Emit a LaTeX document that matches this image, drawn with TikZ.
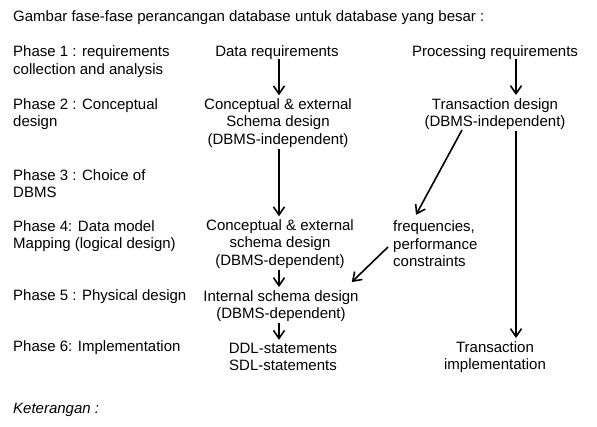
\documentclass[tikz,border=0pt]{standalone}
\usepackage{fontspec}
\setmainfont{Liberation Sans}
\usetikzlibrary{arrows.meta}
\begin{document}
\begin{tikzpicture}[x=1pt,y=-1pt,
		phase/.style={anchor=west, align=left, inner sep=0pt, font=\fontsize{15}{17.5}\selectfont},
		stagebox/.style={align=center, inner sep=0pt, font=\fontsize{15}{17.5}\selectfont},
		flow/.style={line width=1.6pt, -{Straight Barb[length=8pt,width=11pt]}}]
		\useasboundingbox (0,0) rectangle (597,426);
		\node[phase] (judul) at (13,18) {Gambar fase-fase perancangan database untuk database yang besar :};
		\node[phase] (phase1) at (13,61.5) {Phase 1 : requirements\\collection and analysis};
		\node[phase] (phase2) at (13,114) {Phase 2 : Conceptual\\design};
		\node[phase] (phase3) at (13,183.5) {Phase 3 : Choice of\\DBMS};
		\node[phase] (phase4) at (13,236) {Phase 4: Data model\\Mapping (logical design)};
		\node[phase] (phase5) at (13,297) {Phase 5 : Physical design};
		\node[phase] (phase6) at (13,348) {Phase 6: Implementation};
		\node[phase, font=\fontsize{15}{17.5}\selectfont\itshape] (ket) at (13,410) {Keterangan :};
		% kolom data
		\node[stagebox] (datareq) at (277,53) {Data requirements};
		\node[stagebox] (concind) at (278,123) {Conceptual \& external\\Schema design\\(DBMS-independent)};
		\node[stagebox] (concdep) at (280,244) {Conceptual \& external\\schema design\\(DBMS-dependent)};
		\node[stagebox] (internal) at (281,306) {Internal schema design\\(DBMS-dependent)};
		\node[stagebox] (ddl) at (283,357) {DDL-statements\\SDL-statements};
		% kolom transaksi
		\node[stagebox] (procreq) at (495,53) {Processing requirements};
		\node[stagebox] (transdes) at (495,114) {Transaction design\\(DBMS-independent)};
		\node[phase] (freq) at (393,244) {frequencies,\\performance\\constraints};
		\node[stagebox] (transimpl) at (495,357) {Transaction\\implementation};
		\coordinate (dcol) at (279,0);
		\coordinate (tcol) at (516,0);
		\draw[flow] ([yshift=1pt]datareq.south -| dcol) -- ([yshift=3pt]concind.north -| dcol);
		\draw[flow] ([yshift=-1pt]concind.south -| dcol) -- ([yshift=3pt]concdep.north -| dcol);
		\draw[flow] ([yshift=-1pt]concdep.south -| dcol) -- ([yshift=3pt]internal.north -| dcol);
		\draw[flow] ([yshift=-1pt]internal.south -| dcol) -- ([yshift=3pt]ddl.north -| dcol);
		\draw[flow] ([yshift=1pt]procreq.south -| tcol) -- ([yshift=3pt]transdes.north -| tcol);
		\draw[flow] ([yshift=-1pt]transdes.south -| tcol) -- ([yshift=3pt]transimpl.north -| tcol);
		\draw[flow] ([xshift=-33pt,yshift=0pt]transdes.south) -- ([xshift=23pt,yshift=6pt]freq.north west);
		\draw[flow] ([xshift=-5pt,yshift=-3pt]freq.west) -- ([xshift=-7pt,yshift=8pt]internal.north east);
\end{tikzpicture}
\end{document}
